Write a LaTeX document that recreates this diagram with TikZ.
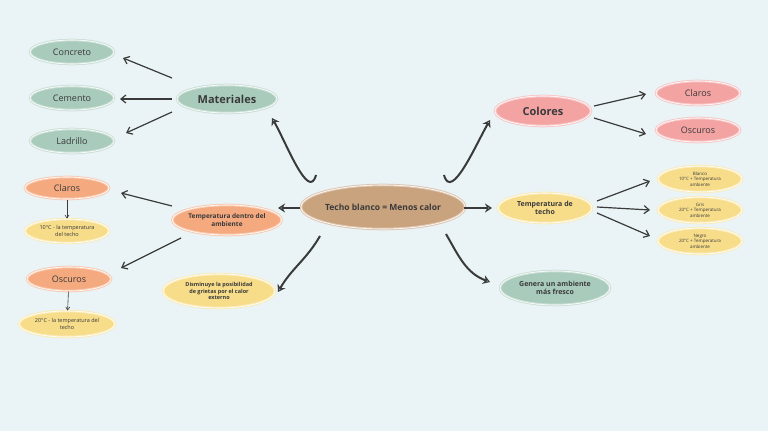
\documentclass[tikz,border=0pt]{standalone}
\usepackage{fontspec}
\setmainfont{Open Sans}
\usetikzlibrary{shapes.geometric,arrows.meta}
\definecolor{bg}{HTML}{EAF4F6}
\definecolor{cgreen}{HTML}{A9CBBC}
\definecolor{cpink}{HTML}{F4A3A3}
\definecolor{corange}{HTML}{F5A97F}
\definecolor{cyellow}{HTML}{F7DD8A}
\definecolor{ctan}{HTML}{C9A27E}
\definecolor{ink}{HTML}{3A3A3A}
\tikzset{
  bub/.style={ellipse,inner sep=0pt,align=center,text=ink,draw=#1!60!white,line width=1pt,fill=#1,double=white,double distance=0.6pt},
  big/.style={arrows={-Stealth[length=7pt,width=9pt,open]},draw=ink,line width=2pt},
  thin/.style={-{Straight Barb[length=5pt,width=8pt]},draw=ink,line width=1.2pt},
  tiny/.style={-{Straight Barb[length=3pt,width=4pt]},draw=ink,line width=0.6pt},
}
\begin{document}
\begin{tikzpicture}[x=1pt,y=-1pt]
\fill[bg] (0,0) rectangle (768,431);
\useasboundingbox (0,0) rectangle (768,431);
\node[bub=ctan,minimum width=160,minimum height=44,font=\bfseries\fontsize{8.5}{10}\selectfont] (c) at (383,207) {Techo blanco = Menos calor};
\node[bub=cgreen,minimum width=100,minimum height=28,font=\bfseries\fontsize{11}{13}\selectfont] (mat) at (227,99) {Materiales};
\node[bub=cgreen,minimum width=84,minimum height=24,font=\fontsize{9}{11}\selectfont] (con) at (72,52) {Concreto};
\node[bub=cgreen,minimum width=84,minimum height=24,font=\fontsize{9}{11}\selectfont] (cem) at (72,98) {Cemento};
\node[bub=cgreen,minimum width=84,minimum height=24,font=\fontsize{9}{11}\selectfont] (lad) at (72,141) {Ladrillo};
\node[bub=cpink,minimum width=96,minimum height=30,font=\bfseries\fontsize{11}{13}\selectfont] (col) at (543,111) {Colores};
\node[bub=cpink,minimum width=84,minimum height=24,font=\fontsize{9}{11}\selectfont] (cl) at (698,93) {Claros};
\node[bub=cpink,minimum width=84,minimum height=24,font=\fontsize{9}{11}\selectfont] (os) at (698,130) {Oscuros};
\node[bub=cyellow,minimum width=94,minimum height=30,font=\bfseries\fontsize{7}{8.5}\selectfont] (tt) at (545,208) {Temperatura de\\techo};
\node[bub=cyellow,minimum width=84,minimum height=26,font=\fontsize{4.5}{5.5}\selectfont] (bl) at (700,179) {Blanco\\10°C + Temperatura\\ambiente};
\node[bub=cyellow,minimum width=84,minimum height=26,font=\fontsize{4.5}{5.5}\selectfont] (gr) at (700,210) {Gris\\20°C + Temperatura\\ambiente};
\node[bub=cyellow,minimum width=84,minimum height=26,font=\fontsize{4.5}{5.5}\selectfont] (ne) at (700,241) {Negro\\20°C + Temperatura\\ambiente};
\node[bub=cgreen,minimum width=110,minimum height=34,font=\bfseries\fontsize{7}{8.5}\selectfont] (ge) at (555,288) {Genera un ambiente\\más fresco};
\node[bub=corange,minimum width=106,minimum height=30,font=\bfseries\fontsize{6.5}{8}\selectfont] (td) at (227,220) {Temperatura dentro del\\ambiente};
\node[bub=corange,minimum width=84,minimum height=22,font=\fontsize{9}{11}\selectfont] (lc) at (67,188) {Claros};
\node[bub=cyellow,minimum width=84,minimum height=24,font=\fontsize{5.5}{6.5}\selectfont] (l10) at (67,231) {10°C - la temperatura\\del techo};
\node[bub=corange,minimum width=84,minimum height=24,font=\fontsize{9}{11}\selectfont] (lo) at (69,279) {Oscuros};
\node[bub=cyellow,minimum width=96,minimum height=26,font=\fontsize{5.5}{6.5}\selectfont] (l20) at (67,324) {20°C - la temperatura del\\techo};
\node[bub=cyellow,minimum width=112,minimum height=34,font=\bfseries\fontsize{5.5}{6.5}\selectfont] (dis) at (219,291) {Disminuye la posibilidad\\de grietas por el calor\\externo};
% big arrows from center
\draw[big] (316,175) to[out=180+75,in=-60] (272,118);
\draw[big] (444,175) to[out=-75,in=240] (490,120);
\draw[big] (300,208) -- (278,208);
\draw[big] (464,208) -- (492,208);
\draw[big] (320,236) to[out=240,in=60] (278,292);
\draw[big] (446,234) to[out=-60,in=160] (490,282);
% thin arrows
\draw[thin] (172,78) -- (123,58);
\draw[thin] (172,99) -- (120,99);
\draw[thin] (172,112) -- (126,133);
\draw[thin] (594,106) -- (646,94);
\draw[thin] (594,118) -- (646,134);
\draw[thin] (597,201) -- (650,181);
\draw[thin] (597,207) -- (650,210);
\draw[thin] (597,213) -- (650,236);
\draw[thin] (172,206) -- (121,193);
\draw[thin] (181,238) -- (121,268);
\draw[tiny] (lc) -- (l10);
\draw[tiny] (lo) -- (l20);
\end{tikzpicture}
\end{document}
